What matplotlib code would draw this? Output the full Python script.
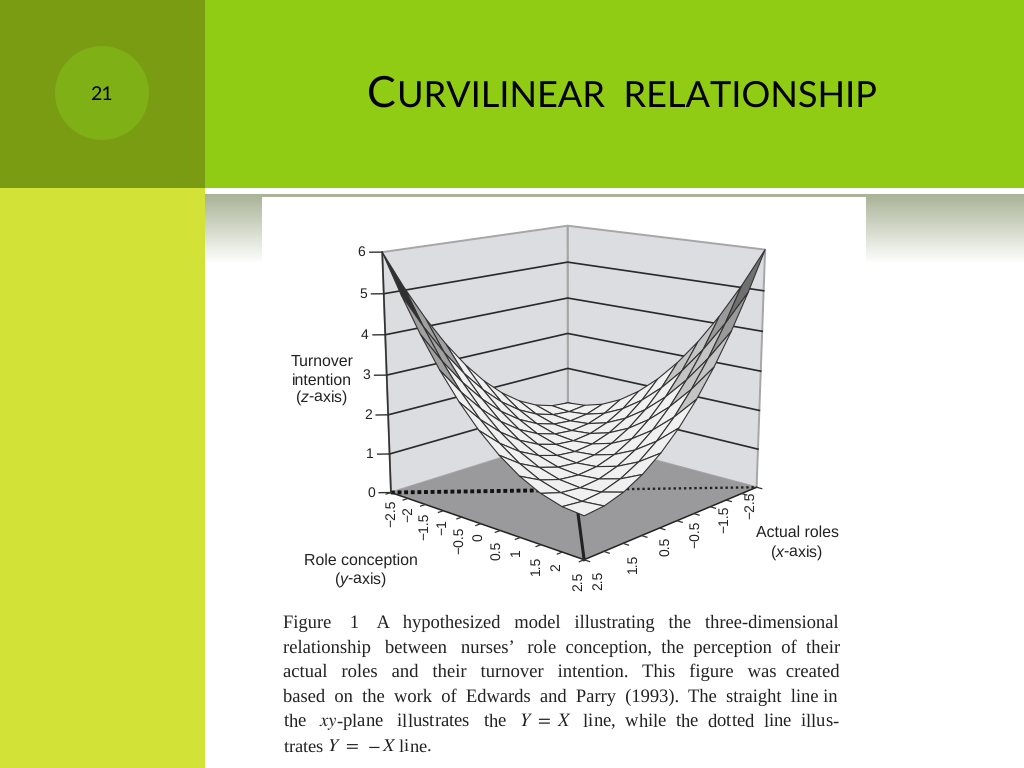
import numpy as np
import matplotlib
matplotlib.use('Agg')
import matplotlib.pyplot as plt
from matplotlib.patches import Circle, Rectangle
from matplotlib.colors import LinearSegmentedColormap
from matplotlib.transforms import offset_copy
from mpl_toolkits.mplot3d.art3d import Poly3DCollection
from mpl_toolkits.mplot3d import proj3d

# ---- data ----
title_initial = "C"
title_rest = "URVILINEAR  RELATIONSHIP"
slide_number = "21"
x_values = [-2.5, -2, -1.5, -1, -0.5, 0, 0.5, 1, 1.5, 2, 2.5]
y_values = [-2.5, -2, -1.5, -1, -0.5, 0, 0.5, 1, 1.5, 2, 2.5]
z_ticks = [0, 1, 2, 3, 4, 5, 6]
y_tick_labels = ["\u22122.5", "\u22122", "\u22121.5", "\u22121", "\u22120.5", "0", "0.5", "1", "1.5", "2", "2.5"]
x_tick_values = [2.5, 1.5, 0.5, -0.5, -1.5, -2.5]
x_tick_labels = ["2.5", "1.5", "0.5", "\u22120.5", "\u22121.5", "\u22122.5"]
# turnover intention: rows follow y_values, columns follow x_values
z_surface = [
    [1.00, 1.05, 1.20, 1.45, 1.80, 2.25, 2.80, 3.45, 4.20, 5.05, 6.00],
    [1.05, 1.00, 1.05, 1.20, 1.45, 1.80, 2.25, 2.80, 3.45, 4.20, 5.05],
    [1.20, 1.05, 1.00, 1.05, 1.20, 1.45, 1.80, 2.25, 2.80, 3.45, 4.20],
    [1.45, 1.20, 1.05, 1.00, 1.05, 1.20, 1.45, 1.80, 2.25, 2.80, 3.45],
    [1.80, 1.45, 1.20, 1.05, 1.00, 1.05, 1.20, 1.45, 1.80, 2.25, 2.80],
    [2.25, 1.80, 1.45, 1.20, 1.05, 1.00, 1.05, 1.20, 1.45, 1.80, 2.25],
    [2.80, 2.25, 1.80, 1.45, 1.20, 1.05, 1.00, 1.05, 1.20, 1.45, 1.80],
    [3.45, 2.80, 2.25, 1.80, 1.45, 1.20, 1.05, 1.00, 1.05, 1.20, 1.45],
    [4.20, 3.45, 2.80, 2.25, 1.80, 1.45, 1.20, 1.05, 1.00, 1.05, 1.20],
    [5.05, 4.20, 3.45, 2.80, 2.25, 1.80, 1.45, 1.20, 1.05, 1.00, 1.05],
    [6.00, 5.05, 4.20, 3.45, 2.80, 2.25, 1.80, 1.45, 1.20, 1.05, 1.00],
]
caption_lines = [
    "Figure 1 A hypothesized model illustrating the three-dimensional",
    "relationship between nurses\u2019 role conception, the perception of their",
    "actual roles and their turnover intention. This figure was created",
    "based on the work of Edwards and Parry (1993). The straight line in",
    r"the $\mathit{xy}$-plane illustrates the $Y\ =\ X$ line, while the dotted line illus-",
    r"trates $Y\ =\ -X$ line.",
]

plt.rcParams['mathtext.fontset'] = 'custom'
plt.rcParams['mathtext.rm'] = 'Liberation Sans'
plt.rcParams['mathtext.it'] = 'Liberation Sans:italic'
plt.rcParams['text.hinting'] = 'none'

fig = plt.figure(figsize=(10.24, 7.68), dpi=100, facecolor='white')

# ---- slide background, in pixel coordinates ----
bg = fig.add_axes([0, 0, 1, 1], zorder=0)
bg.set_xlim(0, 1024)
bg.set_ylim(768, 0)
bg.axis('off')
bg.add_patch(Rectangle((0, 0), 205, 188, fc='#7a9c12', ec='none'))
bg.add_patch(Rectangle((0, 188), 205, 580, fc='#d2e236', ec='none'))
bg.add_patch(Rectangle((205, 0), 819, 188, fc='#90cc14', ec='none'))
grad = LinearSegmentedColormap.from_list('g', ['#a9b396', '#ffffff'])
bg.imshow(np.linspace(0, 1, 70)[:, None], cmap=grad, extent=(205, 1024, 264, 194),
          aspect='auto', zorder=1)
bg.set_xlim(0, 1024)
bg.set_ylim(768, 0)
bg.add_patch(Rectangle((262, 197), 604, 571, fc='white', ec='none', zorder=2))
bg.add_patch(Circle((102, 93), 47, fc='#7fb016', ec='none', zorder=2))
bg.text(101, 95, slide_number, fontsize=14, family='Lato', ha='center', va='center', zorder=3)
bg.text(367, 107, title_initial, fontsize=31, family='Lato', ha='left', va='baseline', zorder=3)
bg.text(397, 107, title_rest, fontsize=26, family='Lato', ha='left', va='baseline', zorder=3)

label_kw = dict(fontsize=11.4, family='Liberation Sans', ha='center', va='center',
                color='#222222', zorder=3)
bg.text(322, 362, "Turnover", **label_kw)
bg.text(322, 381, "intention", **label_kw)
bg.text(322, 398, r"($\mathit{z}$-axis)", **label_kw)
bg.text(361, 561, "Role conception", **label_kw)
bg.text(361, 580, r"($\mathit{y}$-axis)", **label_kw)
bg.text(797, 533, "Actual roles", **label_kw)
bg.text(797, 553, r"($\mathit{x}$-axis)", **label_kw)

# ---- caption, justified line by line ----
renderer = fig.canvas.get_renderer()
cap_y = [623, 648, 672, 697, 722, 747]
cap_left, cap_right = 283, 840
cap_size = 13.3
for i, (line, yy) in enumerate(zip(caption_lines, cap_y)):
    t = bg.text(cap_left, yy, line, fontsize=cap_size, family='Liberation Serif', ha='left',
                va='center', color='#222222', math_fontfamily='stix', zorder=3)
    if i == len(caption_lines) - 1:
        continue
    target = cap_right - cap_left
    words = line.split(' ')
    extra = [0] * (len(words) - 1)
    k = 0
    while t.get_window_extent(renderer).width < target - 4 and k < 40:
        extra[k % len(extra)] += 1
        k += 1
        s = words[0]
        for w, e in zip(words[1:], extra):
            s += ' ' * (1 + e) + w
        t.set_text(s)
    t.set_fontsize(cap_size * target / t.get_window_extent(renderer).width)

# ---- 3D chart ----
S = 435
cx, cy = 569, 379
ax = fig.add_axes([(cx - S / 2) / 1024, (768 - cy - S / 2) / 768, S / 1024, S / 768],
                  projection='3d', computed_zorder=False, zorder=5)
ax.patch.set_alpha(0)
ax.set_axis_off()
ax.view_init(elev=14, azim=42.5)
ax.set_proj_type('persp', focal_length=0.55)
ax.set_box_aspect((1, 1, 0.93))
ax.set_xlim(-2.5, 2.5, view_margin=0)
ax.set_ylim(-2.5, 2.5, view_margin=0)
ax.set_zlim(0, 6, view_margin=0)


def label3d(x, y, z, s, dx=0, dy=0, **kw):
    """Place a label at a 3D data point, via the axes' projection, with a pixel offset."""
    xp, yp, _ = proj3d.proj_transform(x, y, z, ax.get_proj())
    tr = offset_copy(ax.transData, fig=fig, x=dx, y=dy, units='dots')
    return ax.text2D(xp, yp, s, transform=tr, **kw)


lo, hi, top = x_values[0], x_values[-1], z_ticks[-1]
wall_left = [(hi, lo, 0), (lo, lo, 0), (lo, lo, top), (hi, lo, top)]
wall_right = [(lo, lo, 0), (lo, hi, 0), (lo, hi, top), (lo, lo, top)]
floor = [(hi, lo, 0), (hi, hi, 0), (lo, hi, 0), (lo, lo, 0)]
ax.add_collection3d(Poly3DCollection([wall_left, wall_right], facecolors='#dcdde0',
                                     edgecolors='#a6a6a6', linewidths=1.4, zorder=1))
ax.add_collection3d(Poly3DCollection([floor], facecolors='#9a9a9c', edgecolors='none', zorder=2))

for z in z_ticks[1:-1]:
    ax.plot([hi, lo, lo], [lo, lo, hi], [z, z, z], color='#2a2a2a', lw=1.2, zorder=3)
# Y = X (solid) and Y = -X (dotted) lines on the floor
ax.plot([hi, lo], [hi, lo], [0, 0], color='#222222', lw=2.2, zorder=3)
ax.plot([hi, 0], [lo, 0], [0, 0], color='#111111', lw=2.8, ls=(0, (1, 0.7)), zorder=3)
ax.plot([0, lo], [0, hi], [0, 0], color='#222222', lw=1.7, ls=(0, (1, 1.2)), zorder=3)
# outer floor edges
ax.plot([hi, hi, lo], [lo, hi, hi], [0, 0, 0], color='#222222', lw=1.1, zorder=3)
ax.plot([hi, hi], [lo, lo], [0, top], color='#333333', lw=1.2, zorder=3)

# surface
X, Y = np.meshgrid(x_values, y_values)
Z = np.array(z_surface)
mean = (Z[:-1, :-1] + Z[1:, :-1] + Z[:-1, 1:] + Z[1:, 1:]) / 4
face = np.empty(mean.shape, dtype=object)
for r in range(mean.shape[0]):
    for c in range(mean.shape[1]):
        m = mean[r, c]
        if c > r:   # left arm
            col = '#f0f0f0' if m < 3.4 else ('#a0a0a0' if m < 4.6 else '#303030')
        else:       # right arm
            col = ('#f0f0f0' if m < 2.7 else '#c4c4c4' if m < 3.6 else
                   '#9a9a9a' if m < 4.6 else '#707070' if m < 5.3 else '#262626')
        face[r, c] = col
ax.plot_surface(X, Y, Z, rstride=1, cstride=1, facecolors=face, shade=False,
                edgecolor='#333333', linewidth=0.8, antialiased=True, zorder=5)

# ticks and labels
tick_kw = dict(fontsize=10, family='Liberation Sans', color='#222222', zorder=6)
for z in z_ticks:
    ax.plot([hi, hi + 0.16], [lo, lo - 0.16], [z, z], color='#333333', lw=1, zorder=4)
    label3d(hi + 0.27, lo - 0.27, z, str(z), ha='center', va='center', **tick_kw)
for v, lab in zip(y_values, y_tick_labels):
    ax.plot([hi, hi + 0.12], [v, v], [0, 0], color='#333333', lw=0.9, zorder=4)
    label3d(hi, v, 0, lab, dx=-2.5 - 1.4 * v, dy=-(9.5 + v), rotation=90,
            ha='center', va='top', **tick_kw)
for v in x_values:
    ax.plot([v, v], [hi, hi + 0.12], [0, 0], color='#333333', lw=0.9, zorder=4)
for v, lab in zip(x_tick_values, x_tick_labels):
    label3d(v, hi, 0, lab, dx=4 + 4 * v, dy=-(8 + 1.4 * v), rotation=90,
            ha='center', va='top', **tick_kw)

fig.savefig('out.png', dpi=100)
